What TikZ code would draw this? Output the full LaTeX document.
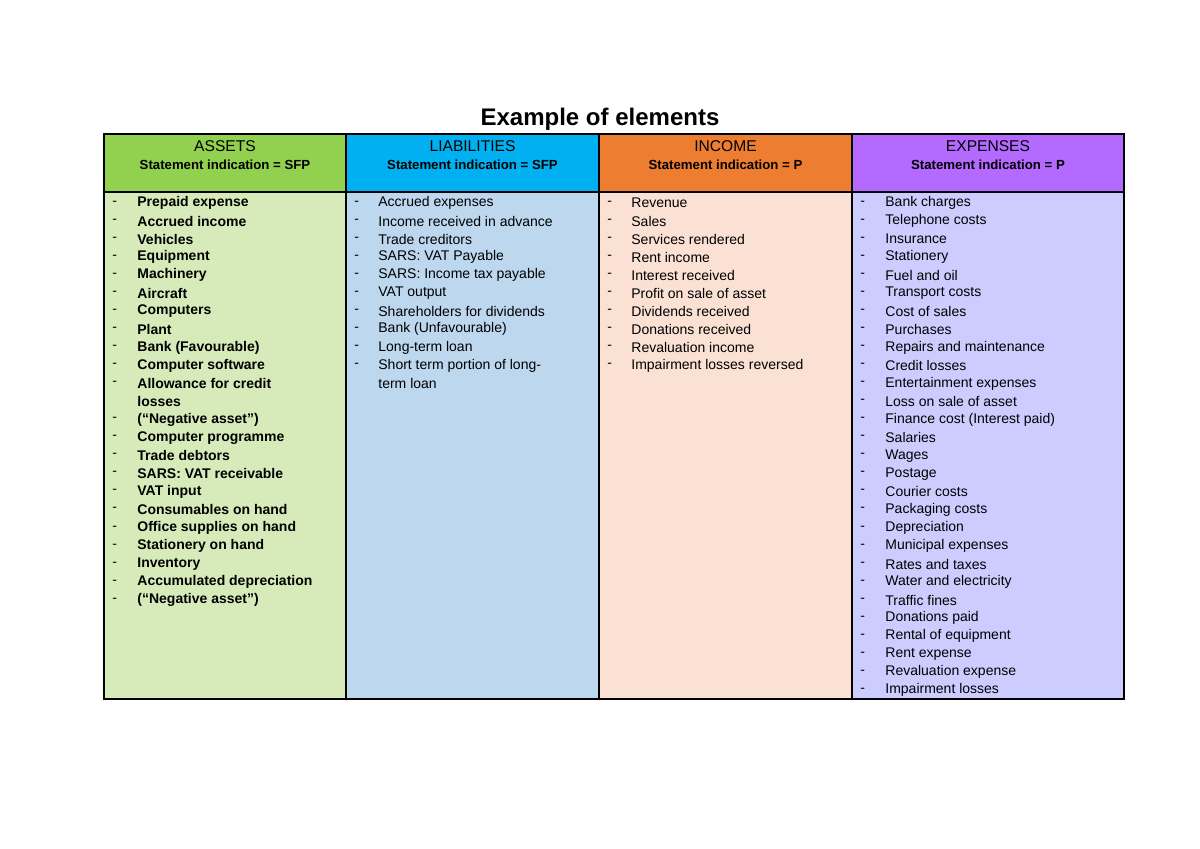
\documentclass[tikz,border=0pt]{standalone}
\usepackage{fontspec}
\setmainfont{Liberation Sans}
\definecolor{ah}{HTML}{92D050}\definecolor{ab}{HTML}{D7EBBA}
\definecolor{lh}{HTML}{00B0F0}\definecolor{lb}{HTML}{BDD7EE}
\definecolor{ih}{HTML}{ED7D31}\definecolor{ib}{HTML}{FBE1D4}
\definecolor{eh}{HTML}{B469FF}\definecolor{eb}{HTML}{CCCCFF}
\tikzset{cell/.style={draw=black,line width=1pt},
 item/.style={anchor=west,inner sep=0pt,font=\fontsize{7}{8}\selectfont},
 hd/.style={inner sep=0pt,font=\fontsize{7.8}{9}\selectfont},
 sub/.style={inner sep=0pt,font=\fontsize{6.6}{8}\selectfont\bfseries}}
\begin{document}
\begin{tikzpicture}[x=0.5pt,y=-0.5pt]
\useasboundingbox (0,0) rectangle (1200,849);
\node[inner sep=0pt,font=\fontsize{12}{14}\selectfont\bfseries] (title) at (600,119) {Example of elements};
\foreach \a/\b/\h/\c/\n/\s [count=\k] in {104/346/ah/ab/ASSETS/SFP,346/599/lh/lb/LIABILITIES/SFP,599/852/ih/ib/INCOME/P/L,852/1124/eh/eb/EXPENSES/P/L}{
 \fill[\h] (\a,134) rectangle (\b,192);
 \fill[\c] (\a,192) rectangle (\b,699);
 \draw[cell] (\a,134) rectangle (\b,192);
 \draw[cell] (\a,192) rectangle (\b,699);
 \node[hd] (h\k) at ({(\a+\b)/2},146) {\n};
 \node[sub] (s\k) at ({(\a+\b)/2},165) {Statement indication = \s};
}
\foreach \d/\t [count=\i] in {-/Prepaid expense,-/Accrued income,-/Vehicles,-/Equipment,-/Machinery,-/Aircraft,-/Computers,-/Plant,-/Bank (Favourable),-/Computer software,-/Allowance for credit,{}/losses,-/(“Negative asset”),-/Computer programme,-/Trade debtors,-/SARS: VAT receivable,-/VAT input,-/Consumables on hand,-/Office supplies on hand,-/Stationery on hand,-/Inventory,-/Accumulated depreciation,-/(“Negative asset”)}{
 \node[item] (ad\i) at (112,{203+18.05*(\i-1)}) {\d};
 \node[item,font=\fontsize{7}{8}\selectfont\bfseries] (at\i) at (137,{203+18.05*(\i-1)}) {\t};
}
\foreach \d/\t [count=\i] in {-/Accrued expenses,-/Income received in advance,-/Trade creditors,-/SARS: VAT Payable,-/SARS: Income tax payable,-/VAT output,-/Shareholders for dividends,-/Bank (Unfavourable),-/Long-term loan,-/Short term portion of long-,{}/term loan}{
 \node[item] (ld\i) at (354,{203+18.05*(\i-1)}) {\d};
 \node[item] (lt\i) at (378,{203+18.05*(\i-1)}) {\t};
}
\foreach \t [count=\i] in {Revenue,Sales,Services rendered,Rent income,Interest received,Profit on sale of asset,Dividends received,Donations received,Revaluation income,Impairment losses reversed}{
 \node[item] (id\i) at (607,{203+18.05*(\i-1)}) {-};
 \node[item] (it\i) at (631,{203+18.05*(\i-1)}) {\t};
}
\foreach \t [count=\i] in {Bank charges,Telephone costs,Insurance,Stationery,Fuel and oil,Transport costs,Cost of sales,Purchases,Repairs and maintenance,Credit losses,Entertainment expenses,Loss on sale of asset,Finance cost (Interest paid),Salaries,Wages,Postage,Courier costs,Packaging costs,Depreciation,Municipal expenses,Rates and taxes,Water and electricity,Traffic fines,Donations paid,Rental of equipment,Rent expense,Revaluation expense,Impairment losses}{
 \node[item] (ed\i) at (860,{203+18.05*(\i-1)}) {-};
 \node[item] (et\i) at (885,{203+18.05*(\i-1)}) {\t};
}
\end{tikzpicture}
\end{document}
